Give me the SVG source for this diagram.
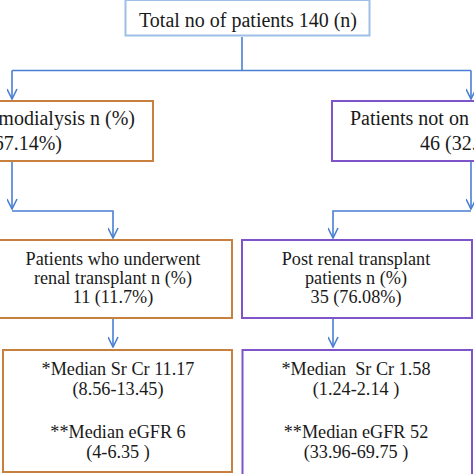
<svg xmlns="http://www.w3.org/2000/svg" width="474" height="474" viewBox="0 0 474 474">
<style>
text{font-family:"Liberation Serif","Times New Roman",serif;font-size:18.2px;fill:#1a1a1a}
.big{font-size:20px}
.c{text-anchor:middle}
.blue{fill:#fff;stroke:#9dbfe8;stroke-width:2}
.org{fill:#fff;stroke:#c8803f;stroke-width:2}
.pur{fill:#fff;stroke:#7d55c8;stroke-width:2}
.ln{fill:none;stroke:#4a7fd2;stroke-width:1.6}
</style>
<defs>
<marker id="ah" viewBox="0 0 12 11" refX="11" refY="5.5" markerWidth="12" markerHeight="11" markerUnits="userSpaceOnUse" orient="auto">
<path d="M1,0.5 L11,5.5 L1,10.5" fill="none" stroke="#4a7fd2" stroke-width="1.6"/>
</marker>
</defs>
<rect width="474" height="474" fill="#fff"/>
<g id="connectors">
<path class="ln" d="M242,37 V70.5"/>
<path class="ln" d="M12,70.5 H471"/>
<path class="ln" d="M12,70.5 V99" marker-end="url(#ah)"/>
<path class="ln" d="M471,70.5 V99" marker-end="url(#ah)"/>
<path class="ln" d="M12,162 V209" marker-end="url(#ah)"/>
<path class="ln" d="M12,211 H113 V238" marker-end="url(#ah)"/>
<path class="ln" d="M471,162 V209" marker-end="url(#ah)"/>
<path class="ln" d="M471,211 H333 V238" marker-end="url(#ah)"/>
<path class="ln" d="M113,319 V347" marker-end="url(#ah)"/>
<path class="ln" d="M333,319 V347" marker-end="url(#ah)"/>
</g>
<g id="total">
<rect class="blue" x="125.5" y="0" width="244" height="35.5"/>
<text class="c big" x="248" y="27">Total no of patients 140 (n)</text>
</g>
<g id="hemodialysis">
<rect class="org" x="-2" y="101" width="155" height="60"/>
<text class="big" x="135" y="125" text-anchor="end">modialysis n (%)</text>
<text class="big" x="62" y="150" text-anchor="end">67.14%)</text>
</g>
<g id="not-on-hd">
<rect class="pur" x="332" y="101" width="150" height="60"/>
<text class="big" x="350" y="125">Patients not on</text>
<text class="big" x="420" y="150">46 (32.</text>
</g>
<g id="underwent-tx">
<rect class="org" x="-2" y="240" width="234" height="78"/>
<text class="c" x="113" y="265">Patients who underwent</text>
<text class="c" x="113" y="284">renal transplant n (%)</text>
<text class="c" x="113" y="303">11 (11.7%)</text>
</g>
<g id="post-tx">
<rect class="pur" x="242" y="240" width="230" height="78"/>
<text class="c" x="356" y="265">Post renal transplant</text>
<text class="c" x="356" y="284">patients n (%)</text>
<text class="c" x="356" y="303">35 (76.08%)</text>
</g>
<g id="left-results">
<rect class="org" x="3" y="350" width="229" height="122"/>
<text class="c" x="118" y="375">*Median Sr Cr 11.17</text>
<text class="c" x="118" y="395">(8.56-13.45)</text>
<text class="c" x="118" y="438">**Median eGFR 6</text>
<text class="c" x="118" y="458">(4-6.35 )</text>
</g>
<g id="right-results">
<rect class="pur" x="242.5" y="350" width="229.5" height="126"/>
<text class="c" x="356" y="375" xml:space="preserve">*Median  Sr Cr 1.58</text>
<text class="c" x="356" y="395">(1.24-2.14 )</text>
<text class="c" x="356" y="438">**Median eGFR 52</text>
<text class="c" x="356" y="458">(33.96-69.75 )</text>
</g>
</svg>
